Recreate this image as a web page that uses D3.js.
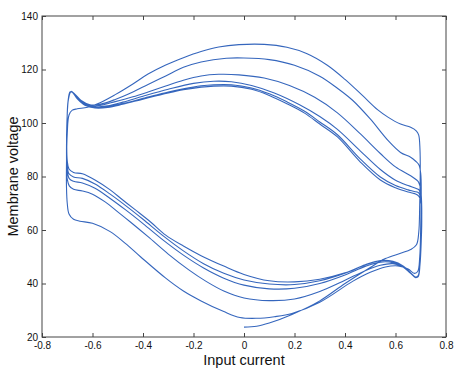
<!DOCTYPE html>
<html>
<head>
<meta charset="utf-8">
<script src="https://cdn.jsdelivr.net/npm/d3@7"></script>
<style>
  body { margin: 0; background: #fff; }
  svg { display: block; font-family: "Liberation Sans", Arial, Helvetica, sans-serif; }
</style>
</head>
<body>
<div id="chart"></div>
<script>
// axis setup
const xTicks = [-0.8, -0.6, -0.4, -0.2, 0, 0.2, 0.4, 0.6, 0.8];
const xTickLabels = ['-0.8', '-0.6', '-0.4', '-0.2', '0', '0.2', '0.4', '0.6', '0.8'];
const yTicks = [20, 40, 60, 80, 100, 120, 140];
const yTickLabels = ['20', '40', '60', '80', '100', '120', '140'];

// trajectory as [input current, membrane voltage]
// each bottom pass runs left -> right and up the right side,
// each top pass runs right -> left and down the left side
const bottom0 = [[0.0, 23.7], [0.05, 24.0], [0.1, 25.2], [0.19, 28.4], [0.3, 33.5], [0.4, 40.0], [0.5, 46.0],
  [0.56, 49.3], [0.62, 51.3], [0.66, 52.7], [0.683, 54.5], [0.692, 59], [0.696, 70], [0.698, 82],
  [0.697, 90], [0.692, 95.5], [0.683, 97.0]];
const top0 = [[0.66, 98.4], [0.62, 99.6], [0.57, 102.2], [0.53, 104.9], [0.47, 110.2], [0.40, 116.3],
  [0.33, 121.6], [0.25, 125.9], [0.17, 128.3], [0.08, 129.4], [-0.02, 129.3], [-0.1, 128.4],
  [-0.17, 126.7], [-0.24, 124.4], [-0.31, 121.7], [-0.38, 118.3], [-0.44, 114.6], [-0.51, 110.6],
  [-0.57, 107.6], [-0.62, 105.9], [-0.66, 105.3], [-0.68, 104.8], [-0.693, 103], [-0.700, 96],
  [-0.703, 85], [-0.703, 76]];

const bottom1 = [[-0.700, 70], [-0.693, 66], [-0.675, 64], [-0.65, 63.3], [-0.60, 62.5], [-0.53, 59.4],
  [-0.47, 55], [-0.41, 50.0], [-0.31, 42.0], [-0.24, 37.2], [-0.17, 33.5], [-0.08, 29.5], [-0.016, 27.3],
  [0.05, 27.0], [0.12, 27.6], [0.19, 28.8], [0.3, 33.0], [0.43, 40.8], [0.5, 44.2], [0.56, 46.2],
  [0.61, 46.6], [0.65, 45.4], [0.675, 43.8], [0.688, 44.5], [0.696, 50], [0.70, 62], [0.702, 74],
  [0.70, 81], [0.693, 84.3], [0.68, 85.7]];
const top1 = [[0.66, 87.2], [0.62, 89.0], [0.57, 93.5], [0.50, 101.5], [0.43, 108.5], [0.37, 113.0],
  [0.30, 117.5], [0.20, 121.6], [0.10, 123.7], [0.0, 124.3], [-0.07, 124.2], [-0.17, 122.8],
  [-0.24, 120.8], [-0.31, 117.6], [-0.38, 114.4], [-0.44, 111.6], [-0.51, 108.8], [-0.57, 107.0],
  [-0.61, 106.8], [-0.645, 108.4], [-0.67, 110.8], [-0.685, 111.8], [-0.695, 109], [-0.701, 101],
  [-0.703, 90]];

const bottom2 = [[-0.702, 82], [-0.700, 79], [-0.692, 76.5], [-0.675, 75.2], [-0.64, 74.6], [-0.60, 73.4],
  [-0.55, 70.5], [-0.50, 66.8], [-0.45, 63.0], [-0.38, 57.5], [-0.30, 51.0], [-0.22, 45.2], [-0.15, 40.8],
  [-0.08, 37.2], [0.0, 34.6], [0.1, 33.6], [0.2, 34.2], [0.3, 37.0], [0.4, 41.2], [0.48, 44.8],
  [0.54, 46.8], [0.59, 47.4], [0.63, 46.2], [0.66, 43.8], [0.68, 42.4], [0.69, 43.0], [0.697, 48],
  [0.702, 58], [0.704, 68], [0.70, 75], [0.692, 77.8]];
const top2 = [[0.685, 78.6], [0.66, 80.3], [0.60, 83.6], [0.54, 88.6], [0.46, 96.0], [0.37, 103.8],
  [0.28, 109.6], [0.18, 114.0], [0.08, 116.8], [-0.02, 118.0], [-0.10, 118.2], [-0.17, 117.6],
  [-0.24, 116.0], [-0.31, 113.8], [-0.38, 111.6], [-0.44, 109.8], [-0.51, 108.0], [-0.57, 106.6],
  [-0.61, 106.4], [-0.645, 108.2], [-0.67, 110.8], [-0.685, 111.7], [-0.695, 109], [-0.701, 101],
  [-0.703, 90]];

const bottom3 = [[-0.701, 83], [-0.692, 79.2], [-0.675, 78.2], [-0.64, 77.6], [-0.59, 75.6], [-0.53, 71.8],
  [-0.47, 67.6], [-0.40, 62.4], [-0.32, 56.2], [-0.24, 50.6], [-0.16, 45.8], [-0.08, 42.0], [0.0, 39.4],
  [0.1, 38.0], [0.2, 38.2], [0.3, 40.0], [0.4, 43.2], [0.48, 46.4], [0.54, 48.0], [0.59, 47.8],
  [0.63, 46.2], [0.66, 43.8], [0.68, 42.2], [0.69, 42.7], [0.697, 47.5], [0.702, 57], [0.704, 66],
  [0.701, 72], [0.693, 75.0]];
const top3 = [[0.68, 75.6], [0.65, 76.6], [0.60, 78.6], [0.54, 82.6], [0.46, 89.6], [0.37, 97.6],
  [0.30, 102.4], [0.22, 106.8], [0.12, 111.2], [0.03, 114.0], [-0.05, 115.4], [-0.12, 115.6],
  [-0.20, 114.8], [-0.30, 112.6], [-0.40, 110.0], [-0.48, 107.8], [-0.54, 106.4], [-0.59, 106.0],
  [-0.63, 107.0], [-0.66, 109.4], [-0.68, 111.6], [-0.689, 111.6], [-0.697, 108], [-0.701, 100],
  [-0.702, 92]];

const bottom4 = [[-0.701, 85], [-0.693, 81], [-0.675, 79.8], [-0.64, 79.3], [-0.59, 77.2], [-0.53, 73.4],
  [-0.47, 69.2], [-0.40, 64.0], [-0.32, 57.8], [-0.24, 52.2], [-0.16, 47.4], [-0.08, 43.8], [0.0, 41.3],
  [0.1, 39.8], [0.2, 39.6], [0.3, 41.0], [0.4, 43.8], [0.48, 46.9], [0.54, 48.5], [0.59, 48.2],
  [0.63, 46.5], [0.66, 44.0], [0.68, 42.3], [0.69, 42.6], [0.697, 47], [0.702, 56], [0.704, 65],
  [0.701, 71], [0.693, 73.8]];
const top4 = [[0.675, 74.4], [0.65, 75.0], [0.60, 76.6], [0.54, 79.8], [0.46, 86.6], [0.37, 95.6],
  [0.30, 100.4], [0.24, 104.4], [0.17, 107.9], [0.10, 110.9], [0.03, 113.1], [-0.05, 114.3],
  [-0.12, 114.3], [-0.17, 113.9], [-0.24, 112.8], [-0.30, 111.6], [-0.40, 109.2], [-0.48, 107.3],
  [-0.54, 106.0], [-0.59, 105.8], [-0.63, 106.8], [-0.66, 109.2], [-0.68, 111.6], [-0.688, 111.7],
  [-0.697, 108], [-0.701, 100], [-0.702, 92]];

// settled cycle
const limitBottom = [[-0.700, 86], [-0.693, 82.8], [-0.675, 81.5], [-0.64, 81.0], [-0.59, 78.7],
  [-0.53, 75.0], [-0.48, 71.2], [-0.43, 67.5], [-0.37, 63.0], [-0.31, 58.1], [-0.24, 54.0],
  [-0.17, 50.4], [-0.08, 46.5], [0.0, 43.4], [0.1, 41.0], [0.2, 40.6], [0.3, 41.6], [0.4, 44.0],
  [0.48, 47.0], [0.54, 48.6], [0.59, 48.3], [0.63, 46.6], [0.66, 44.0], [0.68, 42.3], [0.69, 42.6],
  [0.697, 47], [0.702, 56], [0.704, 64], [0.701, 70], [0.693, 72.6], [0.675, 73.6]];
const limitTop = [[0.65, 74.2], [0.60, 75.8], [0.54, 78.7], [0.46, 85.5], [0.37, 94.8], [0.30, 99.6],
  [0.24, 103.7], [0.17, 107.2], [0.10, 110.3], [0.03, 112.6], [-0.05, 113.8], [-0.12, 113.8],
  [-0.17, 113.4], [-0.24, 112.4], [-0.30, 111.2], [-0.40, 108.9], [-0.48, 107.0], [-0.54, 105.8],
  [-0.59, 105.6], [-0.63, 106.6], [-0.66, 109.0], [-0.68, 111.5], [-0.688, 111.6], [-0.697, 108],
  [-0.701, 100], [-0.702, 92]];

const passes = [bottom0, top0, bottom1, top1, bottom2, top2, bottom3, top3,
  bottom4, top4, limitBottom, limitTop, limitBottom, limitTop];
const trajectory = passes.flat();

const width = 474, height = 369;
const margin = { top: 16, right: 28, bottom: 32, left: 42 };

const svg = d3.select('#chart').append('svg')
  .attr('width', width)
  .attr('height', height);

const x = d3.scaleLinear().domain([-0.8, 0.8]).range([margin.left, width - margin.right]);
const y = d3.scaleLinear().domain([20, 140]).range([height - margin.bottom, margin.top]);

const axisColor = '#444';

// ticks on all four sides, pointing inwards
const xBottom = svg.append('g')
  .attr('transform', `translate(0,${height - margin.bottom})`)
  .call(d3.axisBottom(x).tickValues(xTicks).tickSize(-4).tickSizeOuter(0).tickPadding(5)
    .tickFormat((d, i) => xTickLabels[i]));
const xTop = svg.append('g')
  .attr('transform', `translate(0,${margin.top})`)
  .call(d3.axisTop(x).tickValues(xTicks).tickSize(-4).tickSizeOuter(0).tickFormat(''));
const yLeft = svg.append('g')
  .attr('transform', `translate(${margin.left},0)`)
  .call(d3.axisLeft(y).tickValues(yTicks).tickSize(-4).tickSizeOuter(0).tickPadding(4)
    .tickFormat((d, i) => yTickLabels[i]));
const yRight = svg.append('g')
  .attr('transform', `translate(${width - margin.right},0)`)
  .call(d3.axisRight(y).tickValues(yTicks).tickSize(-4).tickSizeOuter(0).tickFormat(''));

[xBottom, xTop, yLeft, yRight].forEach(g => {
  g.select('.domain').remove();
  g.selectAll('.tick line').attr('stroke', axisColor);
  g.selectAll('.tick text').attr('fill', '#111').style('font-size', '10px')
    .style('font-family', '"Liberation Sans", Arial, Helvetica, sans-serif');
});

// the trajectory
const line = d3.line()
  .x(d => x(d[0]))
  .y(d => y(d[1]))
  .curve(d3.curveCatmullRom.alpha(0.5));

svg.append('path')
  .datum(trajectory)
  .attr('fill', 'none')
  .attr('stroke', '#3566bd')
  .attr('stroke-width', 1.1)
  .attr('stroke-linejoin', 'round')
  .attr('d', line);

// box
svg.append('rect')
  .attr('x', margin.left)
  .attr('y', margin.top)
  .attr('width', width - margin.left - margin.right)
  .attr('height', height - margin.top - margin.bottom)
  .attr('fill', 'none')
  .attr('stroke', axisColor)
  .attr('stroke-width', 1);

// axis titles
svg.append('text')
  .attr('x', x(0))
  .attr('y', height - 4)
  .attr('text-anchor', 'middle')
  .style('font-size', '14.5px')
  .attr('fill', '#111')
  .text('Input current');

svg.append('text')
  .attr('transform', `translate(18,${(margin.top + height - margin.bottom) / 2}) rotate(-90)`)
  .attr('text-anchor', 'middle')
  .style('font-size', '14.5px')
  .attr('fill', '#111')
  .text('Membrane voltage');
</script>
</body>
</html>
